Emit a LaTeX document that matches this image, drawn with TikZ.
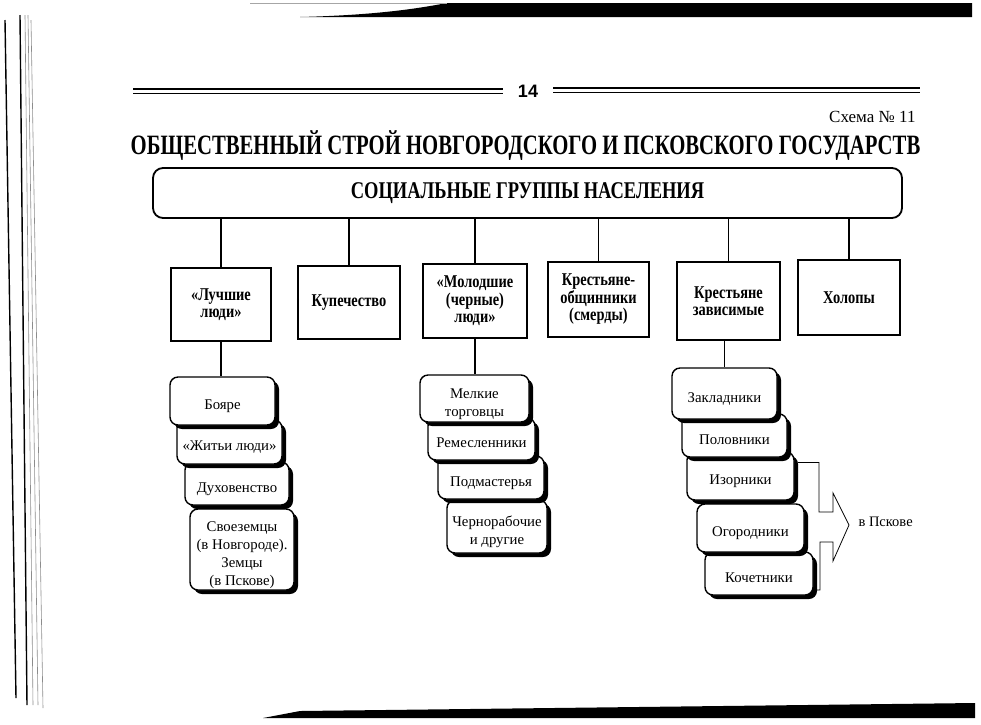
\documentclass[tikz,border=0pt]{standalone}
\usepackage{fontspec}
\setmainfont{Liberation Serif}
\newfontfamily\titlefont[FakeStretch=0.74]{Liberation Serif}
\newfontfamily\headfont[FakeStretch=0.77]{Liberation Serif}
\newfontfamily\boxfont[FakeStretch=0.8]{Liberation Serif}
\newfontfamily\numfont{Liberation Sans}
\usetikzlibrary{shadows}
\newcommand\dn[1]{\raisebox{-5pt}[\height][\depth]{\begin{tabular}{@{}c@{}}#1\end{tabular}}}
\begin{document}
\begin{tikzpicture}[x=1pt,y=-1pt,
  grp/.style={draw, line width=1.8pt, inner sep=0pt, align=center,
    font=\boxfont\bfseries\fontsize{18}{17.5}\selectfont},
  sub/.style={draw, line width=1.4pt, rounded corners=8pt, fill=white, inner sep=0pt,
    align=center, font=\fontsize{14.8}{18}\selectfont,
    drop shadow={opacity=1, fill=black, shadow xshift=4pt, shadow yshift=-4pt}},
  conn/.style={line width=1.2pt},
  scanline/.style={line width=1.4pt, black},
  scangray/.style={line width=0.6pt, black!45}]
\useasboundingbox (0,0) rectangle (981,724);
\fill[white] (0,0) rectangle (981,724);

% scan artefacts
\fill[black] (300,17) .. controls (380,15) and (420,8) .. (447,3) -- (972,3) -- (972,17) -- cycle;
\draw[black!35, line width=0.8pt] (250,3) -- (447,3);
\fill[black] (263,718) -- (300,711) -- (975,703) -- (975,718) -- cycle;
\draw[scanline] (5,20) -- (16,698);
\draw[scanline] (20,15) -- (27,705);
\draw[scangray] (25,15) -- (33,705);
\draw[scangray] (28,15) -- (38,705);
\draw[scangray] (31,20) -- (43,708);

% page header
\node[font=\numfont\bfseries\fontsize{18}{18}\selectfont] (pg) at (528,91) {14};
\coordinate (r1a) at (133,89); \coordinate (r1b) at (503,89);
\coordinate (r2a) at (553,88); \coordinate (r2b) at (920,88);
\draw[line width=2.6pt] (r1a) -- (r1b);
\draw[line width=0.8pt] ([yshift=-4.5pt]r1a) -- ([yshift=-4.5pt]r1b);
\draw[line width=2.6pt] (r2a) -- (r2b);
\draw[line width=0.8pt] ([yshift=-4.5pt]r2a) -- ([yshift=-4.5pt]r2b);
\node[anchor=east, font=\fontsize{17}{17}\selectfont] (sch) at (919,117) {Схема № 11};
\node[font=\titlefont\bfseries\fontsize{28}{28}\selectfont] (title) at (525.5,146)
  {ОБЩЕСТВЕННЫЙ СТРОЙ НОВГОРОДСКОГО И ПСКОВСКОГО ГОСУДАРСТВ};

% main box
\node[draw, line width=1.8pt, rounded corners=10pt, minimum width=749pt, minimum height=50pt,
  inner sep=0pt, font=\headfont\bfseries\fontsize{24}{24}\selectfont] (main) at (527.5,193)
  {СОЦИАЛЬНЫЕ ГРУППЫ НАСЕЛЕНИЯ};

% groups
\node[grp, minimum width=100pt, minimum height=73pt] (b1) at (221,304.5) {«Лучшие\\люди»};
\node[grp, minimum width=102pt, minimum height=73pt] (b2) at (349,302.5) {Купечество};
\node[grp, minimum width=104pt, minimum height=74pt] (b3) at (475,301) {«Молодшие\\(черные)\\люди»};
\node[grp, minimum width=101pt, minimum height=75pt] (b4) at (598.5,299.5) {Крестьяне-\\общинники\\(смерды)};
\node[grp, minimum width=103pt, minimum height=78pt] (b5) at (728.5,301) {Крестьяне\\зависимые};
\node[grp, minimum width=102pt, minimum height=75pt] (b6) at (849,297.5) {Холопы};
\foreach \b in {b1,b2,b3,b4,b5,b6}
  \draw[conn] (\b.north) -- (\b.north |- main.south);

% stack 1
\node[sub, minimum width=104pt, minimum height=81pt] (s1d) at (242,549.5) {\dn{Своеземцы\\(в Новгороде).\\Земцы\\(в Пскове)}};
\node[sub, minimum width=104pt, minimum height=43pt] (s1c) at (237,483.5) {\dn{Духовенство}};
\node[sub, minimum width=105pt, minimum height=44pt] (s1b) at (229.5,442) {\dn{«Житьи люди»}};
\node[sub, minimum width=105pt, minimum height=48pt] (s1a) at (222.5,401) {\dn{Бояре}};

% stack 2
\node[sub, minimum width=100pt, minimum height=53pt] (s2d) at (497,526.5) {\dn{Чернорабочие\\и другие}};
\node[sub, minimum width=106pt, minimum height=43pt] (s2c) at (491,477.5) {\dn{Подмастерья}};
\node[sub, minimum width=107pt, minimum height=42pt] (s2b) at (481.5,439) {\dn{Ремесленники}};
\node[sub, minimum width=109pt, minimum height=47pt] (s2a) at (474.5,398.5) {\dn{Мелкие\\торговцы}};

% stack 3
\node[sub, minimum width=108pt, minimum height=43pt] (s3e) at (759,573.5) {\dn{Кочетники}};
\node[sub, minimum width=107pt, minimum height=48pt] (s3d) at (750.5,528) {\dn{Огородники}};
\node[sub, minimum width=107pt, minimum height=48pt] (s3c) at (740.5,476) {\dn{Изорники}};
\node[sub, minimum width=105pt, minimum height=43pt] (s3b) at (734.5,435.5) {\dn{Половники}};
\node[sub, minimum width=105pt, minimum height=51pt] (s3a) at (724.5,393.5) {\dn{Закладники}};

\draw[conn] (b1.south) -- (b1.south |- s1a.north);
\draw[conn] (b3.south) -- (b3.south |- s2a.north);
\draw[conn] (b5.south -| s3a.north) -- (s3a.north);

% arrow "в Пскове"
\coordinate (pa) at (798,462.5);
\coordinate (pb) at (817,590);
\draw[line width=0.8pt] (pa) -- (819,462.5) -- (819,512) -- (833,512) -- (833,493)
  -- (849,525) -- (833,561) -- (833,542) -- (820,542) -- (820,590) -- (pb);
\node[anchor=west, font=\fontsize{14.5}{14.5}\selectfont] (psk) at (855,522) {в Пскове};
\end{tikzpicture}
\end{document}
